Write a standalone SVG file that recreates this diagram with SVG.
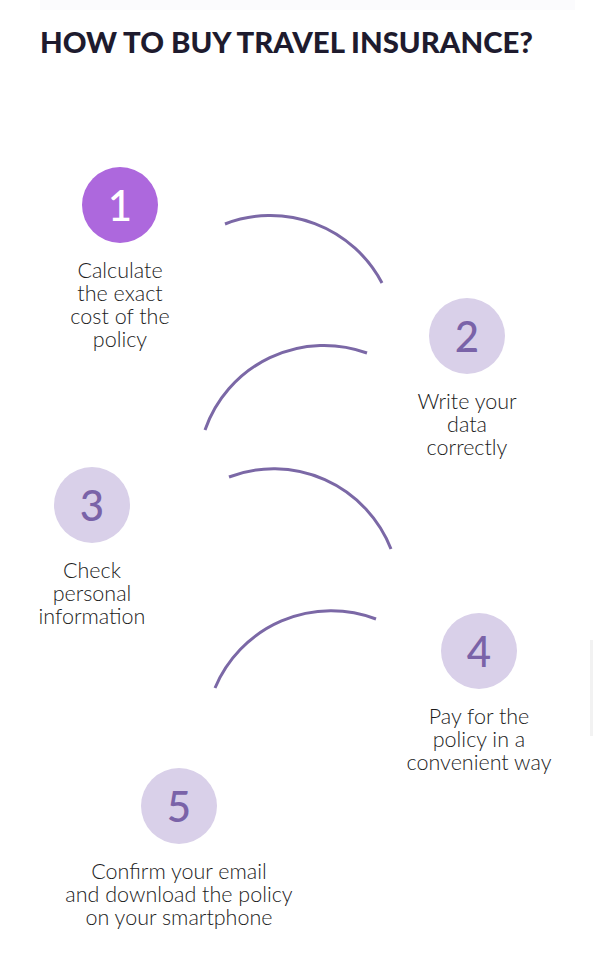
<svg xmlns="http://www.w3.org/2000/svg" width="600" height="959" viewBox="0 0 600 959">
<style>
.title{font-family:Lato,"Open Sans","Liberation Sans",sans-serif;font-weight:900;font-size:29px;fill:#1e1b2e}
.lbl{font-family:Lato,"Open Sans","Liberation Sans",sans-serif;font-size:21.5px;font-weight:300;fill:#1c1c1c;text-anchor:middle}
.num{font-family:Lato,"Open Sans","Liberation Sans",sans-serif;font-size:42px;text-anchor:middle;font-weight:500}
.c1{fill:#ad68dd}
.c{fill:#d9d0e9}
.n1{fill:#fff}
.n{fill:#7a63a8}
.arc{fill:none;stroke:#7b68a6;stroke-width:3;stroke-linecap:butt}
</style>
<rect width="600" height="959" fill="#fff"/>
<rect x="40" y="0" width="535" height="10" fill="#fbfbfd"/>
<rect x="590" y="640" width="3" height="96" fill="#f2f2f2"/>
<text class="title" x="40" y="53" textLength="493" lengthAdjust="spacingAndGlyphs">HOW TO BUY TRAVEL INSURANCE?</text>
<g id="connectors">
<path class="arc" d="M225,224 A126,126 0 0 1 382,283"/>
<path class="arc" d="M205,430 A126,126 0 0 1 367,353"/>
<path class="arc" d="M229,477 A126,126 0 0 1 391,549"/>
<path class="arc" d="M215,688 A126,126 0 0 1 376,619"/>
</g>
<g id="step1">
<circle class="c1" cx="120" cy="205" r="38"/>
<text class="num n1" x="120" y="221">1</text>
<text class="lbl" x="120" y="278">Calculate</text>
<text class="lbl" x="120" y="301">the exact</text>
<text class="lbl" x="120" y="324">cost of the</text>
<text class="lbl" x="120" y="347">policy</text>
</g>
<g id="step2">
<circle class="c" cx="467" cy="336" r="38"/>
<text class="num n" x="467" y="352">2</text>
<text class="lbl" x="467" y="409">Write your</text>
<text class="lbl" x="467" y="432">data</text>
<text class="lbl" x="467" y="455">correctly</text>
</g>
<g id="step3">
<circle class="c" cx="92" cy="505" r="38"/>
<text class="num n" x="92" y="521">3</text>
<text class="lbl" x="92" y="578">Check</text>
<text class="lbl" x="92" y="601">personal</text>
<text class="lbl" x="92" y="624">information</text>
</g>
<g id="step4">
<circle class="c" cx="479" cy="651" r="38"/>
<text class="num n" x="479" y="667">4</text>
<text class="lbl" x="479" y="724">Pay for the</text>
<text class="lbl" x="479" y="747">policy in a</text>
<text class="lbl" x="479" y="770">convenient way</text>
</g>
<g id="step5">
<circle class="c" cx="179" cy="806" r="38"/>
<text class="num n" x="179" y="822">5</text>
<text class="lbl" x="179" y="879">Confirm your email</text>
<text class="lbl" x="179" y="902">and download the policy</text>
<text class="lbl" x="179" y="925">on your smartphone</text>
</g>
</svg>
